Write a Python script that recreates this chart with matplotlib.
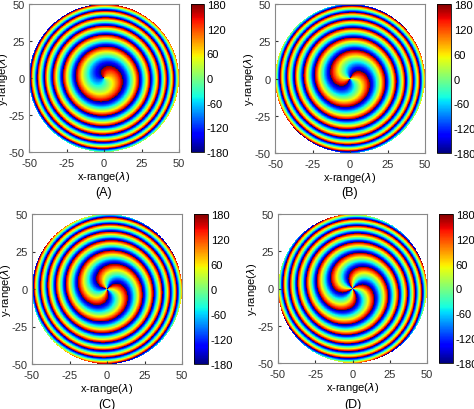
import numpy as np
import matplotlib
matplotlib.use("Agg")
import matplotlib.pyplot as plt

plt.rcParams["font.family"] = ["Liberation Sans", "DejaVu Sans"]
plt.rcParams["axes.unicode_minus"] = False
plt.rcParams["mathtext.fontset"] = "custom"
plt.rcParams["mathtext.it"] = "DejaVu Sans:italic"

panel_labels = ["(A)", "(B)", "(C)", "(D)"]
oam_orders = [1, 2, 3, 4]
focal_length = 200.0   # in wavelengths
aperture_radius = 50
axis_ticks = [-50, -25, 0, 25, 50]
cbar_ticks = [-180, -120, -60, 0, 60, 120, 180]

W, H = 474, 410
fig = plt.figure(figsize=(W/100, H/100), dpi=100)
boxes = [(29, 5, 179, 153, 191, 204),
         (275, 5, 425, 154, 437, 451),
         (32, 215, 182, 365, 194, 208),
         (278, 215, 427, 364, 439, 453)]
label_y = [193, 193, 405, 405]

n = 500
x = np.linspace(-aperture_radius, aperture_radius, n)
X, Y = np.meshgrid(x, x)
R = np.hypot(X, Y)
PHI = np.arctan2(Y, X)
radial = 2*np.pi*(np.sqrt(R**2 + focal_length**2) - focal_length)

for i, (l, lab) in enumerate(zip(oam_orders, panel_labels)):
    x0, y0, x1, y1, c0, c1 = boxes[i]
    ax = fig.add_axes([x0/W, 1-y1/H, (x1-x0)/W, (y1-y0)/H])
    ph = np.angle(np.exp(1j*(l*PHI + radial + np.pi/4)))*180/np.pi
    ph = np.ma.masked_where(R > aperture_radius, ph)
    im = ax.pcolormesh(X, Y, ph, cmap="jet", vmin=-180, vmax=180, shading="auto", rasterized=True)
    ax.set_xlim(-50, 50); ax.set_ylim(-50, 50)
    ax.set_xticks(axis_ticks); ax.set_yticks(axis_ticks)
    ax.tick_params(labelsize=8, direction="in", length=2, colors="#333333")
    ax.tick_params(axis="x", pad=4)
    ax.tick_params(axis="y", pad=3)
    for s in ax.spines.values():
        s.set_color("#888888")
    ax.set_xlabel("x-range($\\lambda$)", fontsize=8, labelpad=1)
    ax.set_ylabel("y-range($\\lambda$)", fontsize=8, labelpad=-1)
    cax = fig.add_axes([c0/W, 1-y1/H, (c1-c0)/W, (y1-y0)/H])
    cb = fig.colorbar(im, cax=cax, ticks=cbar_ticks)
    cb.ax.tick_params(labelsize=8, length=0, pad=2)
    cb.outline.set_linewidth(0.6)
    fig.text((x0+x1)/2/W, 1-label_y[i]/H, lab, ha="center", va="center", fontsize=9)

fig.savefig("out.png", dpi=100)
